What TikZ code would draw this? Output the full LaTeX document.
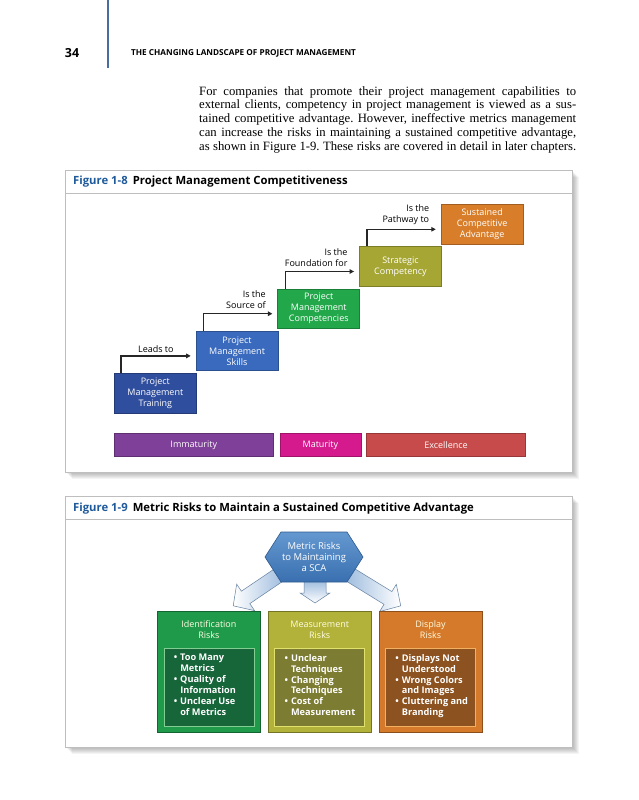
\documentclass[tikz,border=0pt]{standalone}
\usepackage{fontspec}
\setmainfont{Liberation Serif}
\setsansfont{Open Sans}
\usetikzlibrary{arrows.meta,positioning,calc}
\definecolor{cRule}{RGB}{70,110,160}
\definecolor{cFigNo}{RGB}{30,90,155}
\definecolor{cFrame}{RGB}{190,190,190}
\definecolor{cTrain}{RGB}{48,78,158}
\definecolor{cSkill}{RGB}{58,106,190}
\definecolor{cComp}{RGB}{34,168,74}
\definecolor{cStrat}{RGB}{166,166,52}
\definecolor{cSust}{RGB}{216,126,42}
\definecolor{cImm}{RGB}{126,64,152}
\definecolor{cMat}{RGB}{212,26,140}
\definecolor{cExc}{RGB}{200,75,75}
\definecolor{cHexTop}{RGB}{100,152,208}
\definecolor{cHexBot}{RGB}{58,112,176}
\definecolor{cArrow}{RGB}{135,172,214}
\definecolor{cIdent}{RGB}{31,154,75}
\definecolor{cIdentIn}{RGB}{22,102,58}
\definecolor{cIdentLn}{RGB}{130,205,145}
\definecolor{cMeas}{RGB}{178,178,58}
\definecolor{cMeasIn}{RGB}{124,124,50}
\definecolor{cMeasLn}{RGB}{225,225,110}
\definecolor{cDisp}{RGB}{213,121,43}
\definecolor{cDispIn}{RGB}{140,82,32}
\definecolor{cDispLn}{RGB}{242,176,96}
\newcommand\rbul{\makebox[6.5pt][l]{\textbullet}}
\newcommand\rind{\hspace*{6.5pt}}
\tikzset{
	fig/.style={draw=cFrame, line width=0.6pt, fill=white},
	figtitle/.style={anchor=west, inner sep=0pt,
		font=\sffamily\bfseries\fontsize{11.3}{13}\selectfont},
	stepbox/.style={draw=#1!75!black, line width=0.7pt, fill=#1,
		minimum width=82pt, minimum height=39.5pt, inner sep=0pt,
		align=center, text=white, font=\sffamily\fontsize{9}{11}\selectfont},
	steparr/.style={-{Triangle[length=4.5pt,width=4.5pt]}, line width=1.3pt,
		draw=black!85},
	steplab/.style={inner sep=0pt, align=right,
		font=\sffamily\fontsize{9}{11}\selectfont},
	stagebar/.style={fill=#1, draw=#1!75!black, line width=0.6pt,
		minimum height=23pt, inner sep=0pt, text=white,
		font=\sffamily\fontsize{9}{10}\selectfont},
	riskbox/.style={fill=#1, draw=#1!65!black, line width=0.8pt,
		minimum width=103pt, minimum height=121pt, inner sep=0pt},
	risklist/.style={draw=#1, line width=0.7pt, minimum width=90pt,
		minimum height=78pt, inner sep=0pt},
	risktitle/.style={inner sep=0pt, align=center, text=white!88!yellow,
		font=\sffamily\fontsize{9}{11}\selectfont},
	riskitems/.style={inner sep=0pt, align=left, text=white,
		font=\sffamily\bfseries\fontsize{9.2}{10.9}\selectfont},
	blockarr/.style={draw=cArrow!75!black, line width=0.5pt},
	hextext/.style={inner sep=0pt, align=center, text=white,
		font=\sffamily\fontsize{9.5}{11}\selectfont},
}

\begin{document}
\begin{tikzpicture}[x=1pt,y=-1pt]
\useasboundingbox (0,0) rectangle (638,800);
\fill[white] (0,0) rectangle (638,800);
% running head
\coordinate (rtop) at (108,0);
\coordinate (rbot) at (108,68);
\draw[cRule, line width=1.2pt] (rtop) -- (rbot);
\node[inner sep=0pt, font=\sffamily\bfseries\fontsize{12.5}{14}\selectfont] (pageno) at (72,53) {34};
\node[anchor=west, inner sep=0pt, font=\sffamily\bfseries\fontsize{8.2}{9}\selectfont] (runhead) at (131,53) {THE CHANGING LANDSCAPE OF PROJECT MANAGEMENT};
% body text
\node[anchor=north west, inner sep=0pt, align=left, font=\frenchspacing\fontsize{12.7}{13.8}\selectfont] (body) at (199,86) {%
\makebox[377pt][s]{For companies that promote their project management capabilities to}\\
\makebox[377pt][s]{external clients, competency in project management is viewed as a sus-}\\
\makebox[377pt][s]{tained competitive advantage. However, ineffective metrics management}\\
\makebox[377pt][s]{can increase the risks in maintaining a sustained competitive advantage,}\\
\makebox[377pt][s]{as shown in Figure 1-9. These risks are covered in detail in later chapters.}};

% Figure 1-8
\foreach \k in {1,...,7}
	\fill[black, opacity=0.045] (65+\k,170+\k) rectangle (572+\k,472+\k);
\draw[fig] (65,170) rectangle (572,472);
\draw[cFrame, line width=0.6pt] (65,193) -- (572,193);
\node[figtitle] (t8) at (73,181.5) {\textcolor{cFigNo}{Figure 1-8}\hspace{0.45em}Project Management Competitiveness};

\node[stepbox=cTrain, anchor=north west] (train) at (114,373) {Project\\Management\\Training};
\node[stepbox=cSkill, above right=2pt and -1pt of train] (skills) {Project\\Management\\Skills};
\node[stepbox=cComp, above right=2pt and -1pt of skills] (comps) {Project\\Management\\Competencies};
\node[stepbox=cStrat, above right=2pt and -1pt of comps] (strat) {Strategic\\Competency};
\node[stepbox=cSust, above right=2pt and -1pt of strat] (sca) {Sustained\\Competitive\\Advantage};

\draw[steparr] ([xshift=7pt]train.north west) |- ([xshift=-5pt,yshift=-5pt]skills.west)
	node[steplab, pos=0.75, above=3pt] {Leads to};
\draw[steparr] ([xshift=8pt]skills.north west) |- ([xshift=-5pt,yshift=-5pt]comps.west)
	node[steplab, pos=1, anchor=south east, xshift=-6pt, yshift=4pt] {Is the\\Source of};
\draw[steparr] ([xshift=8pt]comps.north west) |- ([xshift=-5pt,yshift=-5pt]strat.west)
	node[steplab, pos=1, anchor=south east, xshift=-6pt, yshift=4pt] {Is the\\Foundation for};
\draw[steparr] ([xshift=8pt]strat.north west) |- ([xshift=-5pt,yshift=-5pt]sca.west)
	node[steplab, pos=1, anchor=south east, xshift=-6pt, yshift=4pt] {Is the\\Pathway to};

\node[stagebar=cImm, minimum width=159pt, anchor=north west] (immat) at (114,433) {Immaturity};
\node[stagebar=cMat, minimum width=81pt, right=6pt of immat] (mat) {Maturity};
\node[stagebar=cExc, minimum width=159pt, right=5pt of mat] (exc) {Excellence};

% Figure 1-9
\foreach \k in {1,...,7}
	\fill[black, opacity=0.045] (65+\k,496+\k) rectangle (572+\k,747+\k);
\draw[fig] (65,496) rectangle (572,747);
\draw[cFrame, line width=0.6pt] (65,519) -- (572,519);
\node[figtitle] (t9) at (73,508.5) {\textcolor{cFigNo}{Figure 1-9}\hspace{0.45em}Metric Risks to Maintain a Sustained Competitive Advantage};

\coordinate (hexc) at (314,557);
\begin{scope}[shift={([shift={(-22,9)}]hexc)}, rotate=214.1]
	\shade[blockarr, left color=white, right color=cArrow] (0,7.5) -- (56,7.5) -- (56,16) -- (71,0) -- (56,-16) -- (56,-7.5) -- (0,-7.5) -- cycle;
\end{scope}
\begin{scope}[shift={([shift={(22,9)}]hexc)}, rotate=-31.6]
	\shade[blockarr, left color=cArrow, right color=white] (0,7.5) -- (61,7.5) -- (61,16) -- (76,0) -- (61,-16) -- (61,-7.5) -- (0,-7.5) -- cycle;
\end{scope}
\begin{scope}[shift={([shift={(1,18)}]hexc)}, rotate=-90]
	\shade[blockarr, top color=cArrow, bottom color=white] (0,11) -- (18,11) -- (18,15) -- (28,0) -- (18,-15) -- (18,-11) -- (0,-11) -- cycle;
\end{scope}
\shade[top color=cHexTop, bottom color=cHexBot, draw=cHexBot!80!black, line width=0.6pt]
	([xshift=-49pt]hexc) -- ++(16,-25) -- ++(66,0) -- ++(16,25) -- ++(-16,25) -- ++(-66,0) -- cycle;
\node[hextext] (hex) at (hexc) {Metric Risks\\to Maintaining\\a SCA};

\node[riskbox=cIdent, anchor=north west] (ident) at (157,611) {};
\node[riskbox=cMeas, right=7pt of ident] (meas) {};
\node[riskbox=cDisp, right=7pt of meas] (disp) {};

\node[risktitle] (identT) at ([yshift=-18.5pt]ident.north) {Identification\\Risks};
\node[risktitle] (measT) at ([yshift=-18.5pt]meas.north) {Measurement\\Risks};
\node[risktitle] (dispT) at ([yshift=-18.5pt]disp.north) {Display\\Risks};

\node[risklist=cIdentLn, fill=cIdentIn, anchor=south] (identL) at ([yshift=6pt]ident.south) {};
\node[risklist=cMeasLn, fill=cMeasIn, anchor=south] (measL) at ([yshift=6pt]meas.south) {};
\node[risklist=cDispLn, fill=cDispIn, anchor=south] (dispL) at ([yshift=6pt]disp.south) {};

\node[riskitems, anchor=north west] (identI) at ([xshift=10pt,yshift=-6pt]identL.north west)
	{\rbul Too Many\\\rind Metrics\\\rbul Quality of\\\rind Information\\\rbul Unclear Use\\\rind of Metrics};
\node[riskitems, anchor=north west] (measI) at ([xshift=10pt,yshift=-6pt]measL.north west)
	{\rbul Unclear\\\rind Techniques\\\rbul Changing\\\rind Techniques\\\rbul Cost of\\\rind Measurement};
\node[riskitems, anchor=north west] (dispI) at ([xshift=10pt,yshift=-6pt]dispL.north west)
	{\rbul Displays Not\\\rind Understood\\\rbul Wrong Colors\\\rind and Images\\\rbul Cluttering and\\\rind Branding};
\end{tikzpicture}
\end{document}
